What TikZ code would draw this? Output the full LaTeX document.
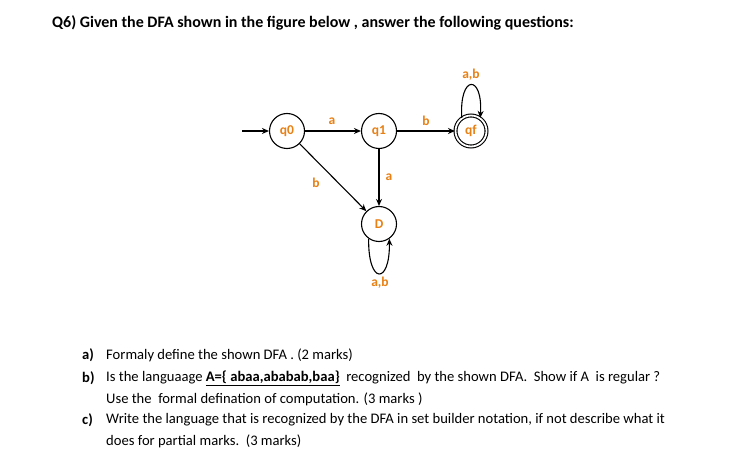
\documentclass[tikz,border=0pt]{standalone}
\usepackage{fontspec}
\setmainfont{Carlito}
\usetikzlibrary{arrows.meta}
\definecolor{lab}{RGB}{232,128,20}
\tikzset{
 st/.style={circle,draw,line width=1.1pt,minimum size=35pt,inner sep=0pt,font=\fontsize{13.5}{15}\selectfont\bfseries,text=lab},
 acc/.style={st,double,double distance=1.8pt,minimum size=31pt},
 tr/.style={-{Stealth[length=7pt,width=6pt]},line width=1.1pt},
 lb/.style={font=\fontsize{13.5}{15}\selectfont\bfseries,text=lab},
 txt/.style={anchor=west,font=\fontsize{14.6}{16}\selectfont,inner sep=0pt},
 txtb/.style={txt,font=\fontsize{14.6}{16}\selectfont\bfseries},
}
\begin{document}
\begin{tikzpicture}[x=1pt,y=-1pt]
\useasboundingbox (0,0) rectangle (730,462);
\node[anchor=west,inner sep=0pt,font=\fontsize{16}{18}\selectfont\bfseries] (title) at (52,23) {Q6) Given the DFA shown in the figure below , answer the following questions:};
\node[st] (q0) at (287,131) {q0};
\node[st] (q1) at (379,131) {q1};
\node[acc] (qf) at (471,131) {qf};
\node[st] (D) at (379,224) {D};
\coordinate (s) at (242,131);
\draw[tr] (s) -- (q0);
\draw[tr] (q0) -- (q1);
\draw[tr] (q1) -- (qf);
\draw[tr] (q0) -- (D);
\draw[tr] (q1) -- (D);
\draw[tr] (qf.125) .. controls (459,74) and (483,74) .. (qf.55);
\draw[tr] (D.235) .. controls (368,285) and (390,285) .. (D.305);
\node[lb] (l1) at (332,121) {a};
\node[lb] (l2) at (426,121) {b};
\node[lb] (l3) at (316,183) {b};
\node[lb] (l4) at (389,177) {a};
\node[lb] (l5) at (471,75) {a,b};
\node[lb] (l6) at (380,283) {a,b};
\node[txtb] (a) at (82,355) {a)};
\node[txt] (at) at (106,355) {Formaly define the shown DFA . (2 marks)};
\node[txtb] (b) at (82,378) {b)};
\node[txt] (bt) at (106,378) {Is the languaage \textbf{\underline{A=\{ abaa,ababab,baa\}}}\ \ recognized\ \ by the shown DFA.\ \ Show if A\ \ is regular ?};
\node[txt] (bt2) at (106,399) {Use the\ \ formal defination of computation. (3 marks )};
\node[txtb] (c) at (82,420) {c)};
\node[txt] (ct) at (106,420) {Write the language that is recognized by the DFA in set builder notation, if not describe what it};
\node[txt] (ct2) at (106,441) {does for partial marks.\ \ (3 marks)};
\end{tikzpicture}
\end{document}
